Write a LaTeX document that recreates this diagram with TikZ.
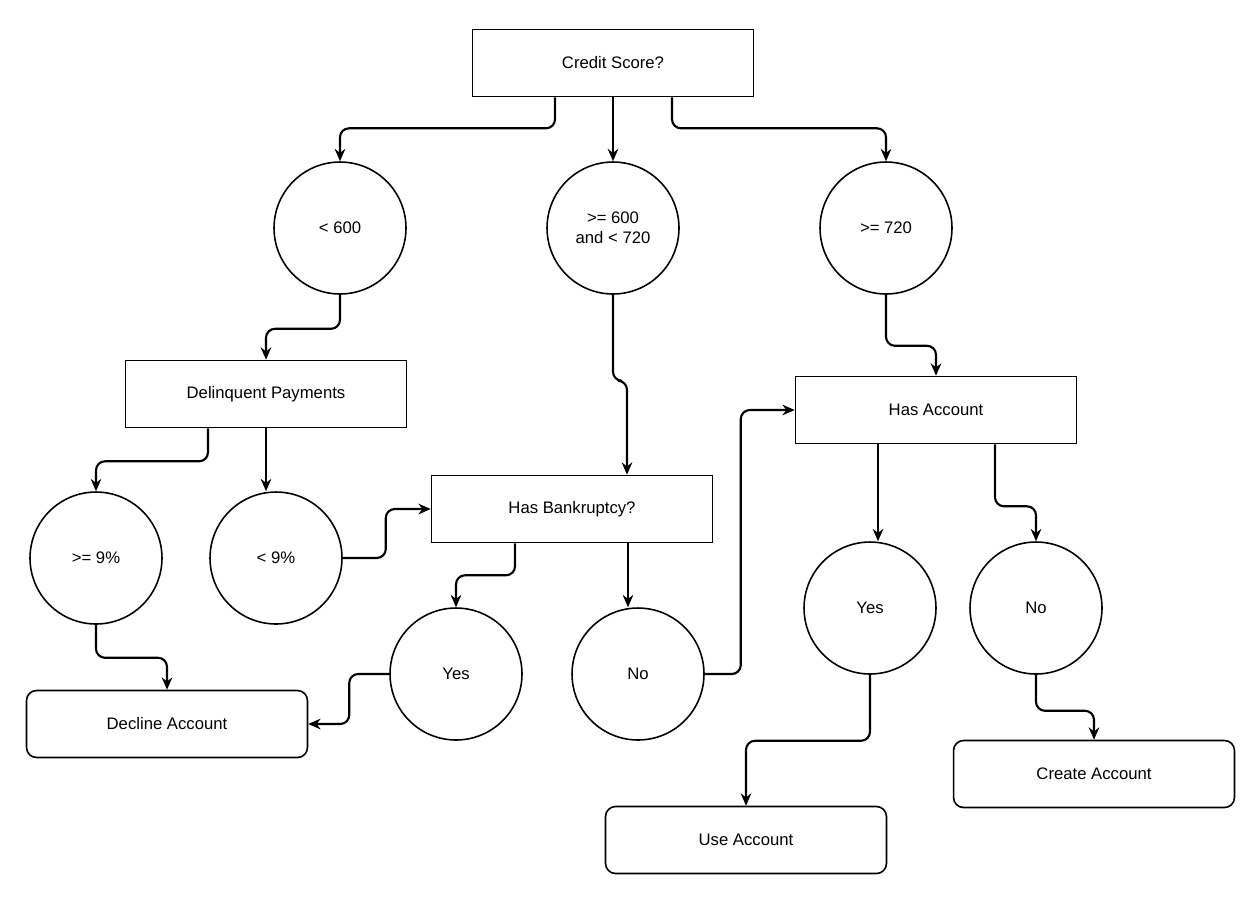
\documentclass[tikz,border=0pt]{standalone}
\usepackage{fontspec}
\setmainfont{Liberation Sans}
\usetikzlibrary{arrows.meta,calc}
\begin{document}
\begin{tikzpicture}[x=0.02cm,y=-0.02cm,
  font=\fontsize{9.5}{11.5}\selectfont,
  box/.style={draw,line width=0.9pt,minimum width=5.62cm,minimum height=1.34cm,align=center},
  rbox/.style={box,rounded corners=0.2cm},
  circ/.style={draw,circle,line width=0.9pt,minimum size=2.64cm,align=center},
  arr/.style={line width=1.2pt,rounded corners=0.18cm,-{Stealth[length=7pt,width=6pt]}}]
\useasboundingbox (0,0) rectangle (1260,914);
% nodes
\node[box] (cs) at (613,63) {Credit Score?};
\node[circ] (lt) at (340,228) {< 600};
\node[circ] (mid) at (613,228) {>= 600\\and < 720};
\node[circ] (rt) at (886,228) {>= 720};
\node[box] (dp) at (266,394) {Delinquent Payments};
\node[box] (ha) at (936,410) {Has Account};
\node[circ] (g9) at (96,558) {>= 9\%};
\node[circ] (l9) at (276,558) {< 9\%};
\node[box] (hb) at (572,509) {Has Bankruptcy?};
\node[circ] (y1) at (456,674) {Yes};
\node[circ] (n1) at (638,674) {No};
\node[circ] (y2) at (870,608) {Yes};
\node[circ] (n2) at (1036,608) {No};
\node[rbox] (dec) at (167,724) {Decline Account};
\node[rbox] (ua) at (746,840) {Use Account};
\node[rbox] (ca) at (1094,774) {Create Account};
% connectors
\draw[arr] ([xshift=-1.16cm]cs.south) -- ++(0,31) -| (lt.north);
\draw[arr] (cs.south) -- (mid.north);
\draw[arr] ([xshift=1.18cm]cs.south) -- ++(0,31) -| (rt.north);
\draw[arr] (lt.south) -- ++(0,34) -| (dp.north);
\draw[arr] (mid.south) -- ++(0,86) -| ([xshift=1.1cm]hb.north);
\draw[arr] (rt.south) -- ++(0,51) -| (ha.north);
\draw[arr] ([xshift=-1.16cm]dp.south) -- ++(0,33) -| (g9.north);
\draw[arr] (dp.south) -- (dp.south |- l9.north);
\draw[arr] (l9.east) -- ++(43,0) |- (hb.west);
\draw[arr] ([xshift=-1.14cm]hb.south) -- ++(0,32) -| (y1.north);
\draw[arr] ([xshift=1.12cm]hb.south) -- ([xshift=1.12cm]hb.south |- n1.north);
\draw[arr] (g9.south) -- ++(0,33) -| (dec.north);
\draw[arr] (y1.west) -- ++(-40,0) |- (dec.east);
\draw[arr] (n1.east) -- ++(36,0) |- (ha.west);
\draw[arr] ([xshift=-1.16cm]ha.south) -- ([xshift=-1.16cm]ha.south |- y2.north);
\draw[arr] ([xshift=1.18cm]ha.south) -- ++(0,62) -| (n2.north);
\draw[arr] (y2.south) -- ++(0,66) -| (ua.north);
\draw[arr] (n2.south) -- ++(0,36) -| (ca.north);
\end{tikzpicture}
\end{document}
